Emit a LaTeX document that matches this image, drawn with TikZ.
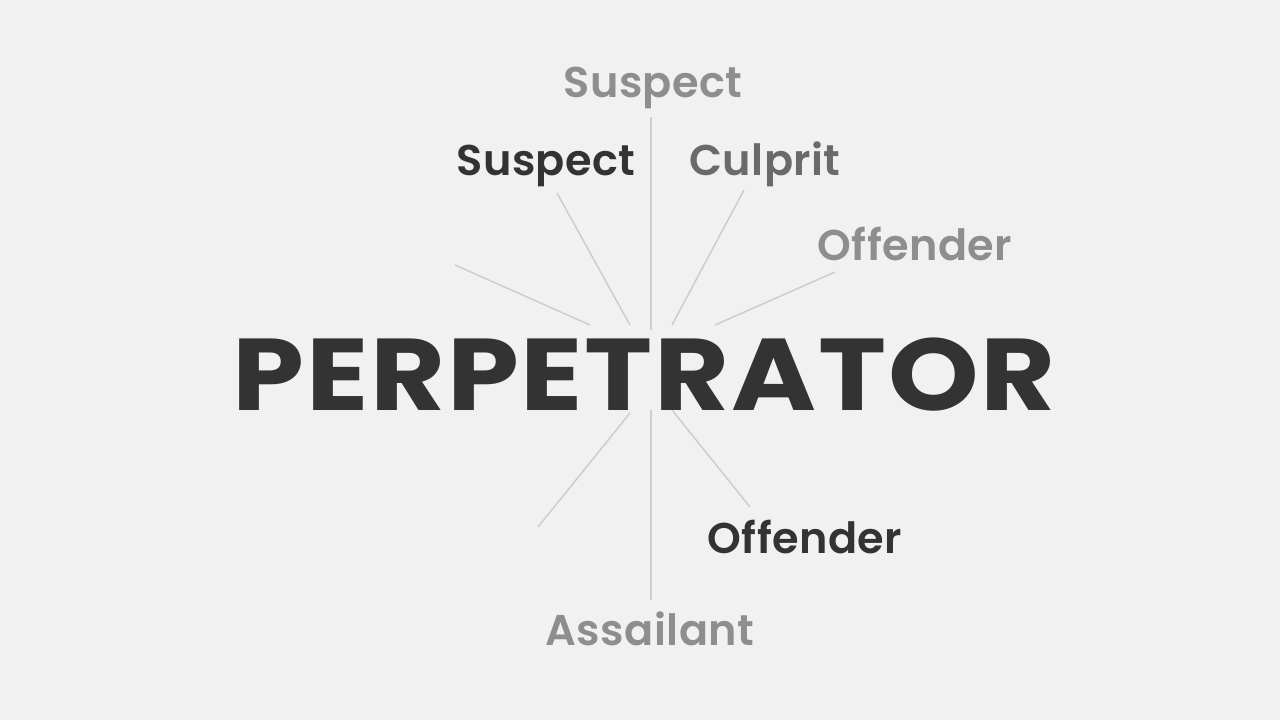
\documentclass[tikz,border=0pt]{standalone}
\usepackage{fontspec}
\setmainfont{Poppins}
\IfFontExistsTF{Poppins SemiBold}
  {\newfontfamily\wordfont{Poppins SemiBold}}
  {\newcommand\wordfont{\bfseries}}

\definecolor{paper}{HTML}{F0F1F0}
\definecolor{ink}{HTML}{333333}
\definecolor{midink}{HTML}{6A6A6A}
\definecolor{softink}{HTML}{8E8E8E}
\definecolor{spokegray}{HTML}{CDCDCD}

\begin{document}
\begin{tikzpicture}[x=1pt,y=-1pt,
    word/.style={anchor=base,inner sep=0pt,font=\wordfont\fontsize{43}{43}\selectfont\addfontfeatures{LetterSpace=1}},
    spoke/.style={draw=spokegray,line width=1.5pt}]

            \fill[paper] (0,0) rectangle (1280,720);
            \useasboundingbox (0,0) rectangle (1280,720);

             %spoke ends
                 \coordinate (top in) at (651,330);
                 \coordinate (top out) at (651,117);
                 \coordinate (sus in) at (630,325);
                 \coordinate (sus out) at (557,193);
                 \coordinate (cul in) at (672,325);
                 \coordinate (cul out) at (744,190);
                 \coordinate (off in) at (715,325);
                 \coordinate (off out) at (835,272);
                 \coordinate (left in) at (590,325);
                 \coordinate (left out) at (455,265);
                 \coordinate (bot in) at (651,410);
                 \coordinate (bot out) at (651,600);
                 \coordinate (botleft in) at (630,413);
                 \coordinate (botleft out) at (538,527);
                 \coordinate (botright in) at (668,405);
                 \coordinate (botright out) at (750,507);
             %spokes
                 \foreach \s in {top,sus,cul,off,left,bot,botleft,botright}
                     \draw[spoke] (\s\space in) -- (\s\space out);

             %words
            \node[word,text=softink] (suspect top) at (653,97) {Suspect};
            \node[word,text=ink] (suspect) at (546,175) {Suspect};
            \node[word,text=midink] (culprit) at (765,175) {Culprit};
            \node[word,text=softink] (offender top) at (915,260) {Offender};
            \node[word,text=ink,font=\bfseries\fontsize{102}{102}\selectfont,xscale=1.13] (perp) at (644,410)
                {\addfontfeatures{LetterSpace=1.5}PERPETRATOR};
            \node[word,text=ink] (offender) at (805,553) {Offender};
            \node[word,text=softink] (assailant) at (650,645) {Assailant};
             \end{tikzpicture}
\end{document}
